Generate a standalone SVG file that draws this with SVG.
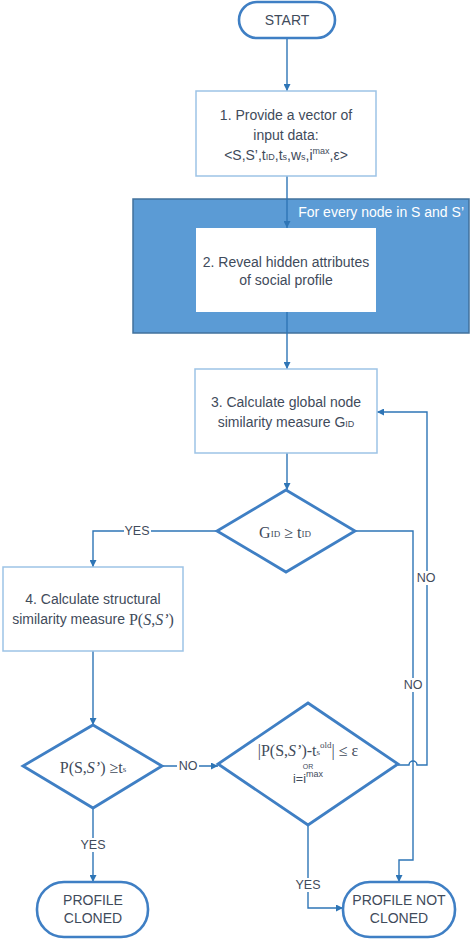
<svg xmlns="http://www.w3.org/2000/svg" width="474" height="939" viewBox="0 0 474 939">
<style>
  .t { font-family: "Liberation Sans", Arial, sans-serif; font-size: 14px; fill: #3f4b5b; text-anchor: middle; dominant-baseline: central; }
  .m { font-family: "Liberation Serif", "Times New Roman", serif; font-size: 16px; fill: #3f4b5b; text-anchor: middle; dominant-baseline: central; }
  .box { fill: #ffffff; stroke: #9dc3e6; stroke-width: 1.5; }
  .term { fill: #ffffff; stroke: #3f7fc4; stroke-width: 2.6; }
  .dia { fill: #ffffff; stroke: #3f7fc4; stroke-width: 2.8; stroke-linejoin: miter; }
  .con { fill: none; stroke: #2e75b6; stroke-width: 1.4; }
  .lbl { fill: #ffffff; }
  .sm { font-size: 9px; }
  .ls { font-size: 12.5px; }
</style>
<defs>
  <marker id="ar" viewBox="0 0 10 10" refX="10" refY="5" markerWidth="7" markerHeight="7" orient="auto" markerUnits="userSpaceOnUse">
    <path d="M0,0 L10,5 L0,10 z" fill="#2e75b6"/>
  </marker>
</defs>
<rect width="474" height="939" fill="#ffffff"/>

<g id="loop-container">
  <rect x="133" y="199" width="336" height="134" fill="#5b9bd5" stroke="#41719c" stroke-width="1.5"/>
  <text x="464" y="212" class="t" style="fill:#ffffff;text-anchor:end">For every node in S and S’</text>
</g>

<g id="connectors">
  <path class="con" d="M287,38 V91" marker-end="url(#ar)"/>
  <path class="con" d="M287,176 V228" marker-end="url(#ar)"/>
  <path class="con" d="M287,312 V369" marker-end="url(#ar)"/>
  <path class="con" d="M287,453 V490" marker-end="url(#ar)"/>
  <path class="con" d="M217,531 H93 V567" marker-end="url(#ar)"/>
  <path class="con" d="M355,531 H413 V860 H399 V882" marker-end="url(#ar)"/>
  <path class="con" d="M398,765 H409 A4,4 0 0 1 417,765 H427 V412 H377" marker-end="url(#ar)"/>
  <path class="con" d="M93,651 V725" marker-end="url(#ar)"/>
  <path class="con" d="M162,766 H218" marker-end="url(#ar)"/>
  <path class="con" d="M93,808 V882" marker-end="url(#ar)"/>
  <path class="con" d="M308,825 V908 H343" marker-end="url(#ar)"/>
  <g id="labels">
    <rect class="lbl" x="124" y="524" width="27" height="14"/>
    <text x="137" y="531" class="t ls">YES</text>
    <rect class="lbl" x="415" y="571" width="22" height="14"/>
    <text x="426" y="578" class="t ls">NO</text>
    <rect class="lbl" x="402" y="678" width="22" height="14"/>
    <text x="413" y="685" class="t ls">NO</text>
    <rect class="lbl" x="177" y="759" width="22" height="14"/>
    <text x="188" y="766" class="t ls">NO</text>
    <rect class="lbl" x="80" y="838" width="27" height="14"/>
    <text x="93" y="845" class="t ls">YES</text>
    <rect class="lbl" x="295" y="878" width="27" height="14"/>
    <text x="308" y="885" class="t ls">YES</text>
  </g>
</g>

<g id="start">
  <rect class="term" x="239" y="2" width="96" height="36" rx="18"/>
  <text x="287" y="20" class="t">START</text>
</g>

<g id="step1">
  <rect class="box" x="196" y="91" width="180" height="85"/>
  <text x="286" y="115" class="t">1. Provide a vector of</text>
  <text x="286" y="135" class="t">input data:</text>
  <text x="286" y="155" class="t">&lt;S,S’,t<tspan class="sm" dy="2">ID</tspan><tspan dy="-2">,t</tspan><tspan class="sm" dy="2">s</tspan><tspan dy="-2">,w</tspan><tspan class="sm" dy="2">s</tspan><tspan dy="-2">,i</tspan><tspan class="sm" dy="-4">max</tspan><tspan dy="4">,ε&gt;</tspan></text>
</g>

<g id="step2">
  <rect x="196" y="228" width="180" height="84" fill="#ffffff"/>
  <text x="286" y="262" class="t">2. Reveal hidden attributes</text>
  <text x="286" y="280" class="t">of social profile</text>
</g>

<g id="step3">
  <rect class="box" x="195" y="369" width="182" height="84"/>
  <text x="286" y="402" class="t">3. Calculate global node</text>
  <text x="286" y="422" class="t">similarity measure G<tspan class="sm" dy="2">ID</tspan></text>
</g>

<g id="decision1">
  <polygon class="dia" points="286,490 355,531 286,572 217,531"/>
  <text x="285" y="532" class="m">G<tspan class="sm" dy="2">ID</tspan><tspan dy="-2"> ≥  t</tspan><tspan class="sm" dy="2">ID</tspan></text>
</g>

<g id="step4">
  <rect class="box" x="3" y="567" width="180" height="84"/>
  <text x="93" y="599" class="t">4. Calculate structural</text>
  <text x="93" y="619" class="t">similarity measure <tspan class="m">P(<tspan font-style="italic">S</tspan>,<tspan font-style="italic">S’</tspan>)</tspan></text>
</g>

<g id="decision2">
  <polygon class="dia" points="93,725 162,766 93,808 23,766"/>
  <text x="93" y="767" class="m">P(S,<tspan font-style="italic">S’</tspan>) ≥t<tspan class="sm" dy="2">s</tspan></text>
</g>

<g id="decision3">
  <polygon class="dia" points="308,703 398,764 308,825 218,764"/>
  <text x="308" y="750" class="m">|P(S,<tspan font-style="italic">S’</tspan>)-t<tspan class="sm" dy="2">s</tspan><tspan class="sm" dy="-7">old</tspan><tspan dy="5">| ≤ ε</tspan></text>
  <text x="308" y="766" class="t" style="font-size:7px">OR</text>
  <text x="308" y="779" class="t" style="font-size:12.5px">i=i<tspan class="sm" dy="-5">max</tspan></text>
</g>

<g id="end-cloned">
  <rect class="term" x="37" y="882" width="111" height="55" rx="27"/>
  <text x="93" y="900" class="t">PROFILE</text>
  <text x="93" y="918" class="t">CLONED</text>
</g>

<g id="end-not-cloned">
  <rect class="term" x="343" y="882" width="112" height="55" rx="27"/>
  <text x="399" y="900" class="t">PROFILE NOT</text>
  <text x="399" y="918" class="t">CLONED</text>
</g>
</svg>
